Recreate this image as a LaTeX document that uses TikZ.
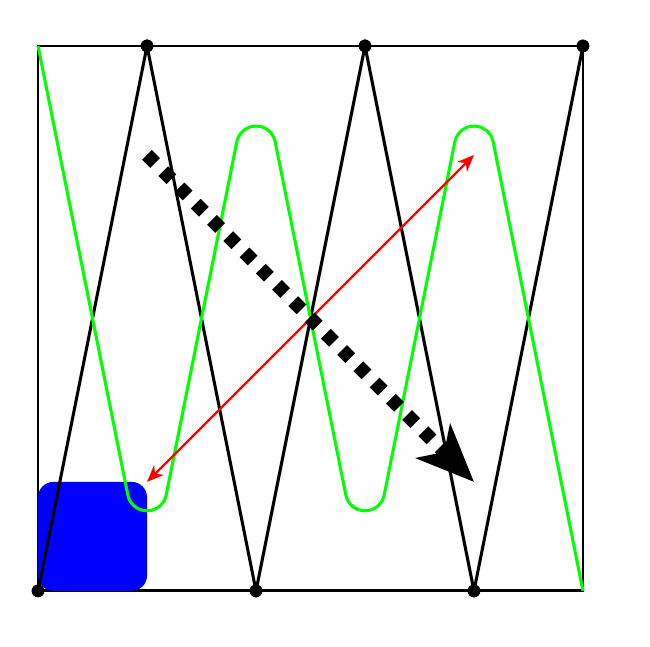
\documentclass[tikz,border=0pt]{standalone}
\usetikzlibrary{arrows.meta}
\begin{document}
\begin{tikzpicture}[x=1cm,y=1cm,
  frameline/.style={line width=0.75pt,black},
  zigline/.style={line width=0.8pt,black},
  greenline/.style={line width=0.8pt,green},
  redarrow/.style={line width=0.6pt,red,{Stealth[length=4.4pt,width=3.6pt]}-{Stealth[length=4.4pt,width=3.6pt]}},
  bigarrow/.style={line width=3.6pt,black,dashed,-{Stealth[length=15pt,width=12.5pt,inset=4pt]}},
  dot/.style={circle,fill=black,inner sep=0pt,minimum size=3.3pt}]
\useasboundingbox (-0.349,-0.514) rectangle (5.615,5.422);
\coordinate (tl) at (0,5);
\coordinate (br) at (5,0);
\coordinate (b0) at (0,0);
\coordinate (t5) at (5,5);
\draw[frameline] (b0) rectangle (t5);
\fill[blue,rounded corners=4pt] (0,0) rectangle (1,1);
\node[dot] (p0) at (0,0) {};
\node[dot] (p1) at (1,5) {};
\node[dot] (p2) at (2,0) {};
\node[dot] (p3) at (3,5) {};
\node[dot] (p4) at (4,0) {};
\node[dot] (p5) at (5,5) {};
\draw[zigline] (p0.center) -- (p1.center) -- (p2.center) -- (p3.center) -- (p4.center) -- (p5.center);
\draw[greenline] (tl) -- (0.8242,0.8792) arc[start angle=191.31,end angle=348.69,radius=0.1793]
  -- (1.8242,4.1208) arc[start angle=168.69,end angle=11.31,radius=0.1793]
  -- (2.8242,0.8792) arc[start angle=191.31,end angle=348.69,radius=0.1793]
  -- (3.8242,4.1208) arc[start angle=168.69,end angle=11.31,radius=0.1793]
  -- (br);
\coordinate (ra) at (1,1);
\coordinate (rb) at (4,4);
\draw[redarrow] (ra) -- (rb);
\coordinate (da) at (1,4);
\coordinate (db) at (4,1);
\draw[bigarrow] (da) -- (db);
\foreach \n in {p0,p1,p2,p3,p4,p5} \node[dot] at (\n) {};
\end{tikzpicture}
\end{document}
